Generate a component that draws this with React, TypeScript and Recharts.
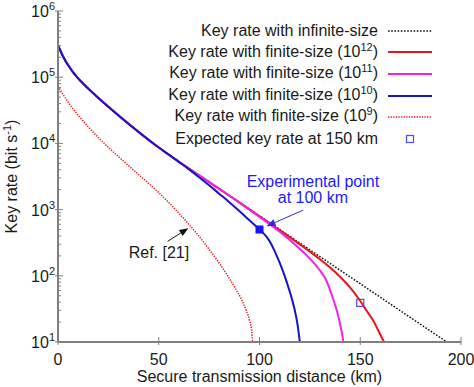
import {
  ComposedChart,
  Line,
  Scatter,
  XAxis,
  YAxis,
  ReferenceLine,
  ReferenceDot,
  Legend,
} from "recharts";

const FONT = '"Liberation Sans", Arial, Helvetica, sans-serif';
const AXIS = "#808080";
const INK = "#1a1a1a";

// distance (km) -> key rate (bit/s)
const kmInfinite = [0, 2.5, 5, 7.5, 10, 15, 20, 25, 30, 40, 50, 60, 70, 80, 90, 100, 110, 120, 130, 140, 150, 160, 170, 180, 190, 193];
const rateInfinite = [305500, 206500, 153100, 118900, 96600, 67600, 48980, 35890, 26610, 14960, 8710, 5310, 3311, 2065, 1288, 803.5, 501, 312.6, 195, 121.6, 75.9, 47.3, 29.5, 18.4, 11.5, 10];

const kmN12 = [0, 2.5, 5, 7.5, 10, 15, 20, 25, 30, 40, 50, 60, 70, 80, 90, 100, 110, 120, 125, 130, 135, 140, 145, 150, 153, 156.5, 159, 161.8];
const rateN12 = [305000, 206000, 152800, 118600, 96400, 67450, 48870, 35800, 26550, 14930, 8690, 5300, 3304, 2060, 1284, 794, 490, 298.5, 231.7, 177.8, 133.4, 96.6, 66.1, 41.7, 30.2, 20.9, 14.8, 10];

const kmN11 = [0, 2.5, 5, 7.5, 10, 15, 20, 25, 30, 40, 50, 60, 70, 80, 90, 100, 105, 110, 115, 120, 125, 130, 133, 136, 138.5, 140, 141, 141.6];
const rateN11 = [304500, 205800, 152600, 118400, 96300, 67350, 48800, 35750, 26500, 14900, 8670, 5290, 3297, 2052, 1274, 776, 602.6, 462.4, 346.7, 254.1, 182, 120.2, 87.1, 50.1, 28.8, 18.6, 13.2, 10];

const kmN10 = [0, 2.5, 5, 7.5, 10, 15, 20, 25, 30, 40, 50, 55, 60, 65, 70, 75, 80, 85, 90, 95, 100, 102, 104, 106, 108, 110, 112, 114, 116, 118, 119, 120];
const rateN10 = [304000, 205500, 152400, 118200, 96200, 67250, 48700, 35700, 26450, 14880, 8660, 6780, 5248, 4050, 3090, 2331, 1738, 1296, 955, 688, 501, 436.5, 371.5, 295, 218.8, 158.5, 109.6, 72.4, 45.7, 25.7, 17.4, 10];

const kmN9 = [0, 2.5, 5, 7.5, 10, 15, 20, 25, 30, 35, 40, 45, 50, 55, 60, 65, 70, 75, 80, 84, 88, 91, 93.5, 95, 96, 96.6];
const rateN9 = [73100, 54950, 42170, 33110, 26610, 17780, 12300, 8710, 6310, 4624, 3388, 2483, 1799, 1274, 881, 595.7, 393.6, 251.2, 154.9, 102.3, 64.6, 44.2, 29.5, 21.4, 15.5, 10];

const kmExperiment = [100];
const rateExperiment = [500];
const kmExpected = [150];
const rateExpected = [39];

const xTicks = [0, 50, 100, 150, 200];
const yDecades = [10, 100, 1000, 10000, 100000, 1000000];
const yTicks = yDecades.flatMap((d, i) =>
  i === yDecades.length - 1 ? [d] : [1, 2, 3, 4, 5, 6, 7, 8, 9].map((m) => m * d)
);

const zip = (km: number[], rate: number[]) => km.map((k, i) => ({ km: k, rate: rate[i] }));

const series = [
  { key: "inf", data: zip(kmInfinite, rateInfinite), color: "#111111", dash: "1.6 1.6", label: "Key rate with infinite-size", exp: "" },
  { key: "n12", data: zip(kmN12, rateN12), color: "#e8141c", dash: undefined, label: "Key rate with finite-size (10", exp: "12" },
  { key: "n11", data: zip(kmN11, rateN11), color: "#ee22ee", dash: undefined, label: "Key rate with finite-size (10", exp: "11" },
  { key: "n10", data: zip(kmN10, rateN10), color: "#1515c8", dash: undefined, label: "Key rate with finite-size (10", exp: "10" },
  { key: "n9", data: zip(kmN9, rateN9), color: "#e8141c", dash: "1.3 1.3", label: "Key rate with finite-size (10", exp: "9" },
];

const isMajor = (v: number) => Math.abs(Math.log10(v) - Math.round(Math.log10(v))) < 1e-6;

const LeftTick = ({ x, y, payload }: any) => {
  const v = payload.value;
  const major = isMajor(v);
  return (
    <g>
      <line x1={major ? x - 3 : x} x2={x + (major ? 5 : 3)} y1={y} y2={y} stroke={AXIS} strokeWidth={1} />
      {major && (
        <text x={x - 3} y={y + 6} textAnchor="end" fontSize={16} fontFamily={FONT} fill={INK}>
          10
          <tspan dy={-7} fontSize={11}>
            {Math.round(Math.log10(v))}
          </tspan>
        </text>
      )}
    </g>
  );
};

const RightTick = ({ x, y, payload }: any) => {
  const major = isMajor(payload.value);
  return <line x1={x} x2={x - (major ? 5 : 3)} y1={y} y2={y} stroke={AXIS} strokeWidth={1} />;
};

const BottomTick = ({ x, y, payload }: any) => (
  <g>
    <line x1={x} x2={x} y1={y + 3} y2={y - 5} stroke={AXIS} strokeWidth={1} />
    <text x={x} y={y + 23} textAnchor="middle" fontSize={16} fontFamily={FONT} fill={INK}>
      {payload.value}
    </text>
  </g>
);

const TopTick = ({ x, y }: any) => <line x1={x} x2={x} y1={y} y2={y + 5} stroke={AXIS} strokeWidth={1} />;

const YTitle = ({ viewBox }: any) => {
  const cx = viewBox.x + 17;
  const cy = viewBox.y + viewBox.height / 2;
  return (
    <text x={cx} y={cy} transform={`rotate(-90 ${cx} ${cy})`} textAnchor="middle" fontSize={16} fontFamily={FONT} fill={INK}>
      Key rate (bit s
      <tspan dy={-6} fontSize={11}>-1</tspan>
      <tspan dy={6}>)</tspan>
    </text>
  );
};

const XTitle = ({ viewBox }: any) => (
  <text x={viewBox.x + viewBox.width / 2} y={viewBox.y + 40} textAnchor="middle" fontSize={16} fontFamily={FONT} fill={INK}>
    Secure transmission distance (km)
  </text>
);

const Arrow = (color: string) => (props: any) => {
  const { x1, y1, x2, y2 } = props;
  const dx = x2 - x1;
  const dy = y2 - y1;
  const len = Math.hypot(dx, dy) || 1;
  const ux = dx / len;
  const uy = dy / len;
  const bx = x2 - ux * 9;
  const by = y2 - uy * 9;
  return (
    <g>
      <line x1={x1} y1={y1} x2={bx} y2={by} stroke={color} strokeWidth={1} />
      <polygon points={`${x2},${y2} ${bx - uy * 3.5},${by + ux * 3.5} ${bx + uy * 3.5},${by - ux * 3.5}`} fill={color} />
    </g>
  );
};

const Note = (text: string, color: string) => (props: any) => (
  <text x={props.cx} y={props.cy} textAnchor="middle" fontSize={16} fontFamily={FONT} fill={color}>
    {text}
  </text>
);

const LegendBox = () => (
  <div style={{ fontFamily: FONT, fontSize: 16, color: INK }}>
    {series.map((s) => (
      <div key={s.key} style={{ display: "flex", alignItems: "center", height: 21.6, lineHeight: "21.6px" }}>
        <span style={{ width: 238, textAlign: "right", whiteSpace: "nowrap" }}>
          {s.label}
          {s.exp && (
            <>
              <span style={{ fontSize: 11, position: "relative", top: -6 }}>{s.exp}</span>)
            </>
          )}
        </span>
        <svg width={44} height={8} style={{ marginLeft: 10 }}>
          <line x1={0} x2={44} y1={4} y2={4} stroke={s.color} strokeWidth={s.dash ? 1.5 : 2} strokeDasharray={s.dash} />
        </svg>
      </div>
    ))}
    <div style={{ display: "flex", alignItems: "center", height: 21.6, lineHeight: "21.6px" }}>
      <span style={{ width: 238, textAlign: "right", whiteSpace: "nowrap" }}>Expected key rate at 150 km</span>
      <svg width={44} height={10} style={{ marginLeft: 10 }}>
        <rect x={18.5} y={1.5} width={7} height={7} fill="none" stroke="#4b4bff" strokeWidth={1.2} />
      </svg>
    </div>
  </div>
);

export default function App() {
  return (
    <div style={{ position: "absolute", left: 0, top: 0, background: "#fff" }}>
      <ComposedChart width={474} height={387} margin={{ top: 11, right: 13, bottom: 0, left: 0 }}>
        <XAxis
          dataKey="km"
          type="number"
          domain={[0, 200]}
          ticks={xTicks}
          interval={0}
          allowDataOverflow
          height={45}
          tickSize={0}
          tickMargin={0}
          tick={<BottomTick />}
          axisLine={{ stroke: AXIS, strokeWidth: 2 }}
          label={{ content: XTitle }}
        />
        <XAxis
          xAxisId="top"
          orientation="top"
          dataKey="km"
          type="number"
          domain={[0, 200]}
          ticks={[50, 100, 150]}
          interval={0}
          allowDataOverflow
          height={0}
          tickSize={0}
          tickMargin={0}
          tick={<TopTick />}
          axisLine={{ stroke: AXIS, strokeWidth: 2 }}
        />
        <YAxis
          scale="log"
          type="number"
          domain={[10, 1000000]}
          ticks={yTicks}
          interval={0}
          allowDataOverflow
          width={58}
          tickSize={0}
          tickMargin={0}
          tick={<LeftTick />}
          axisLine={{ stroke: AXIS, strokeWidth: 2 }}
          label={{ content: YTitle }}
        />
        <YAxis
          yAxisId="right"
          orientation="right"
          scale="log"
          type="number"
          domain={[10, 1000000]}
          ticks={yTicks}
          interval={0}
          allowDataOverflow
          width={0}
          tickSize={0}
          tickMargin={0}
          tick={<RightTick />}
          axisLine={{ stroke: AXIS, strokeWidth: 2 }}
        />
        <Legend
          layout="vertical"
          align="center"
          verticalAlign="middle"
          content={<LegendBox />}
          wrapperStyle={{ position: "absolute", left: 140, top: 20, width: 300 }}
        />
        {series.map((s) => (
          <Line
            key={s.key}
            data={s.data}
            dataKey="rate"
            type="monotone"
            stroke={s.color}
            strokeWidth={s.dash ? 1.5 : 2}
            strokeDasharray={s.dash}
            dot={false}
            activeDot={false}
            isAnimationActive={false}
          />
        ))}
        <Scatter
          data={zip(kmExperiment, rateExperiment)}
          dataKey="rate"
          fill="#1414ff"
          shape={(p: any) => <rect x={p.cx - 4} y={p.cy - 4} width={8} height={8} fill="#1414ff" />}
          isAnimationActive={false}
        />
        <Scatter
          data={zip(kmExpected, rateExpected)}
          dataKey="rate"
          fill="none"
          shape={(p: any) => <rect x={p.cx - 3.5} y={p.cy - 3.5} width={7} height={7} fill="none" stroke="#4b4bff" strokeWidth={1.2} />}
          isAnimationActive={false}
        />
        <ReferenceLine segment={[{ x: 121.6, y: 980 }, { x: 103.5, y: 562 }]} shape={Arrow("#2a2ae8")} />
        <ReferenceLine segment={[{ x: 54.4, y: 331 }, { x: 64.7, y: 525 }]} shape={Arrow("#111111")} />
        <ReferenceDot x={126.5} y={2230} r={0} shape={Note("Experimental point", "#1a1aff")} />
        <ReferenceDot x={126.5} y={1277} r={0} shape={Note("at 100 km", "#1a1aff")} />
        <ReferenceDot x={50.1} y={184} r={0} shape={Note("Ref. [21]", INK)} />
      </ComposedChart>
    </div>
  );
}
